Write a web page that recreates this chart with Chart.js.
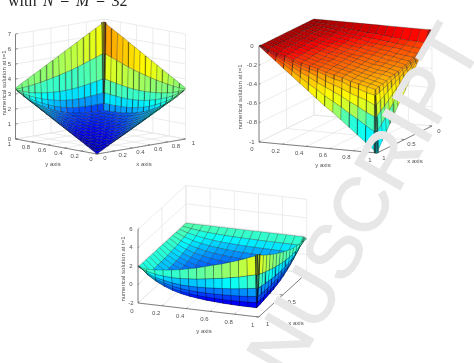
<!DOCTYPE html>
<html><head><meta charset="utf-8">
<script src="https://cdn.jsdelivr.net/npm/chart.js@4"></script>
<style>
html,body{margin:0;padding:0;background:#fff;width:474px;height:363px;overflow:hidden}
#c{position:absolute;left:0;top:0;display:block;filter:blur(0.35px)}
#t{position:absolute;left:8px;top:-8px;font:16px/18px "Liberation Serif",serif;color:#222;word-spacing:2.6px;white-space:nowrap}
</style></head><body>
<canvas id="c" width="474" height="363"></canvas>
<div id="t">with <i>N</i> = <i>M</i> = 32</div>
<script>
const meshValues=[0,.069,.139,.208,.278,.347,.417,.486,.556,.625,.694,.764,.833,.903,.972,.977,.982,.987,.993,1];

const surfaceA=[
[0,.23,.46,.69,.92,1.15,1.38,1.60,1.83,2.06,2.29,2.52,2.75,2.98,3.20,3.22,3.24,3.27,3.33,3.4],
[.23,.07,.19,.39,.59,.80,1.01,1.24,1.46,1.69,1.91,2.14,2.37,2.58,2.81,2.88,2.98,3.11,3.35,3.64],
[.46,.19,.14,.24,.39,.57,.78,.96,1.18,1.39,1.60,1.83,2.02,2.28,2.47,2.58,2.75,2.97,3.38,3.87],
[.69,.39,.24,.21,.30,.42,.58,.76,.96,1.16,1.35,1.57,1.77,1.99,2.19,2.34,2.57,2.88,3.44,4.11],
[.92,.59,.39,.30,.28,.36,.47,.62,.78,.97,1.15,1.35,1.55,1.73,1.94,2.13,2.42,2.80,3.50,4.34],
[1.15,.80,.57,.42,.36,.35,.43,.53,.66,.81,.97,1.16,1.33,1.54,1.72,1.95,2.29,2.75,3.58,4.58],
[1.38,1.01,.78,.58,.47,.43,.42,.50,.59,.71,.85,1.0,1.17,1.35,1.52,1.78,2.18,2.71,3.67,4.82],
[1.60,1.24,.96,.76,.62,.53,.50,.49,.56,.66,.76,.89,1.04,1.22,1.36,1.66,2.10,2.69,3.76,5.05],
[1.83,1.46,1.18,.96,.78,.66,.59,.56,.56,.63,.72,.83,.94,1.08,1.23,1.56,2.04,2.69,3.87,5.29],
[2.06,1.69,1.39,1.16,.97,.81,.71,.66,.63,.63,.70,.79,.89,1.0,1.13,1.48,2.01,2.71,3.98,5.52],
[2.29,1.91,1.60,1.35,1.15,.97,.85,.76,.72,.70,.69,.77,.86,.95,1.06,1.44,2.0,2.75,4.11,5.76],
[2.52,2.14,1.83,1.57,1.35,1.16,1.0,.89,.83,.79,.77,.76,.83,.92,1.01,1.41,2.01,2.81,4.25,6.0],
[2.75,2.37,2.02,1.77,1.55,1.33,1.17,1.04,.94,.89,.86,.83,.83,.90,.99,1.41,2.04,2.88,4.40,6.23],
[2.98,2.58,2.28,1.99,1.73,1.54,1.35,1.22,1.08,1.0,.95,.92,.90,.90,.97,1.41,2.07,2.95,4.54,6.47],
[3.20,2.81,2.47,2.19,1.94,1.72,1.52,1.36,1.23,1.13,1.06,1.01,.99,.97,.97,1.43,2.12,3.03,4.69,6.70],
[3.22,2.88,2.58,2.34,2.13,1.95,1.78,1.66,1.56,1.48,1.44,1.41,1.41,1.41,1.43,1.43,2.12,3.03,4.69,6.8],
[3.24,2.98,2.75,2.57,2.42,2.29,2.18,2.10,2.04,2.01,2.0,2.01,2.04,2.07,2.12,2.12,2.12,3.03,4.69,6.8],
[3.27,3.11,2.97,2.88,2.80,2.75,2.71,2.69,2.69,2.71,2.75,2.81,2.88,2.95,3.03,3.03,3.03,3.03,4.69,6.8],
[3.33,3.35,3.38,3.44,3.50,3.58,3.67,3.76,3.87,3.98,4.11,4.25,4.40,4.54,4.69,4.69,4.69,4.69,4.69,6.8],
[3.4,3.64,3.87,4.11,4.34,4.58,4.82,5.05,5.29,5.52,5.76,6.0,6.23,6.47,6.70,6.8,6.8,6.8,6.8,6.8]];

const surfaceB=[
[0,0,0,0,0,0,0,0,0,0,0,0,0,0,0,0,0,0,0,0],
[0,-.01,-.02,-.03,-.04,-.05,-.06,-.07,-.07,-.08,-.09,-.10,-.11,-.11,-.12,-.12,-.11,-.10,-.09,-.07],
[0,-.02,-.03,-.04,-.05,-.07,-.08,-.09,-.10,-.11,-.12,-.13,-.14,-.15,-.16,-.16,-.16,-.15,-.15,-.14],
[0,-.02,-.04,-.05,-.06,-.08,-.09,-.10,-.12,-.13,-.14,-.15,-.16,-.18,-.19,-.19,-.20,-.20,-.20,-.21],
[0,-.02,-.04,-.06,-.07,-.09,-.10,-.12,-.13,-.14,-.16,-.17,-.19,-.20,-.21,-.22,-.23,-.24,-.26,-.28],
[0,-.02,-.04,-.06,-.08,-.10,-.11,-.13,-.14,-.16,-.17,-.19,-.20,-.22,-.23,-.24,-.26,-.28,-.31,-.35],
[0,-.03,-.05,-.07,-.09,-.10,-.12,-.14,-.15,-.17,-.18,-.20,-.22,-.23,-.25,-.27,-.29,-.33,-.37,-.42],
[0,-.03,-.05,-.07,-.09,-.11,-.13,-.15,-.17,-.18,-.20,-.22,-.23,-.25,-.26,-.28,-.32,-.36,-.42,-.49],
[0,-.03,-.05,-.07,-.10,-.12,-.14,-.15,-.17,-.19,-.21,-.23,-.24,-.26,-.28,-.31,-.35,-.41,-.48,-.56],
[0,-.03,-.06,-.08,-.10,-.12,-.14,-.16,-.18,-.20,-.22,-.24,-.26,-.27,-.29,-.32,-.37,-.44,-.52,-.62],
[0,-.03,-.06,-.08,-.10,-.13,-.15,-.17,-.19,-.21,-.23,-.25,-.27,-.28,-.30,-.34,-.40,-.48,-.57,-.69],
[0,-.03,-.06,-.08,-.11,-.13,-.16,-.17,-.20,-.22,-.24,-.26,-.28,-.30,-.32,-.36,-.43,-.52,-.63,-.76],
[0,-.03,-.06,-.09,-.11,-.14,-.16,-.18,-.20,-.22,-.24,-.27,-.29,-.31,-.33,-.38,-.46,-.56,-.68,-.83],
[0,-.03,-.07,-.09,-.12,-.14,-.17,-.19,-.21,-.23,-.25,-.28,-.30,-.32,-.34,-.40,-.48,-.59,-.73,-.90],
[0,-.04,-.07,-.09,-.12,-.15,-.17,-.19,-.22,-.24,-.26,-.29,-.31,-.33,-.35,-.41,-.51,-.63,-.78,-.97],
[0,-.04,-.08,-.10,-.14,-.17,-.20,-.22,-.25,-.28,-.30,-.34,-.36,-.39,-.41,-.41,-.51,-.63,-.78,-1],
[0,-.05,-.09,-.12,-.16,-.20,-.23,-.27,-.31,-.34,-.37,-.41,-.44,-.47,-.51,-.51,-.51,-.63,-.78,-1],
[0,-.05,-.10,-.14,-.19,-.24,-.28,-.33,-.37,-.41,-.45,-.50,-.54,-.59,-.63,-.63,-.63,-.63,-.78,-1],
[0,-.06,-.12,-.17,-.23,-.29,-.35,-.40,-.46,-.51,-.56,-.62,-.67,-.73,-.78,-.78,-.78,-.78,-.78,-1],
[0,-.07,-.14,-.21,-.28,-.35,-.42,-.49,-.56,-.62,-.69,-.76,-.83,-.90,-.97,-1,-1,-1,-1,-1]];

const surfaceC=[
[1.9,1.9,1.9,1.9,1.9,1.9,1.9,1.9,1.9,1.9,1.9,1.9,1.9,1.9,1.9,1.88,1.86,1.82,1.77,1.7],
[1.9,1.73,1.62,1.53,1.47,1.42,1.39,1.36,1.35,1.33,1.32,1.32,1.31,1.31,1.31,1.35,1.41,1.48,1.59,1.75],
[1.9,1.60,1.39,1.24,1.13,1.04,.98,.94,.90,.88,.86,.85,.84,.84,.84,.94,1.06,1.22,1.49,1.85],
[1.9,1.49,1.20,1.00,.84,.73,.64,.58,.54,.51,.48,.46,.45,.45,.45,.60,.78,1.02,1.41,1.95],
[1.9,1.40,1.05,.80,.60,.46,.35,.28,.23,.19,.16,.14,.12,.12,.12,.31,.54,.85,1.36,2.05],
[1.9,1.33,.92,.63,.40,.24,.12,.03,-.03,-.07,-.11,-.13,-.15,-.15,-.15,.09,.37,.74,1.35,2.2],
[1.9,1.26,.81,.49,.24,.05,-.08,-.17,-.24,-.29,-.33,-.36,-.38,-.38,-.38,-.10,.23,.68,1.40,2.4],
[1.9,1.21,.71,.36,.09,-.11,-.26,-.36,-.43,-.48,-.53,-.56,-.58,-.58,-.58,-.26,.12,.63,1.46,2.6],
[1.9,1.17,.65,.28,-.01,-.21,-.37,-.48,-.55,-.61,-.66,-.68,-.71,-.71,-.71,-.35,.07,.64,1.57,2.85],
[1.9,1.13,.58,.20,-.10,-.32,-.48,-.59,-.68,-.73,-.79,-.81,-.84,-.84,-.84,-.45,.03,.66,1.68,3.1],
[1.9,1.11,.55,.15,-.16,-.38,-.55,-.67,-.75,-.81,-.86,-.89,-.92,-.92,-.92,-.49,.02,.70,1.81,3.35],
[1.9,1.09,.51,.10,-.22,-.45,-.62,-.74,-.83,-.88,-.94,-.97,-1.0,-1.0,-1.0,-.54,.02,.77,1.98,3.65],
[1.9,1.07,.47,.06,-.27,-.51,-.68,-.80,-.89,-.95,-1.01,-1.04,-1.07,-1.07,-1.07,-.57,.03,.84,2.14,3.95],
[1.9,1.05,.44,.02,-.32,-.56,-.74,-.87,-.96,-1.02,-1.08,-1.11,-1.14,-1.14,-1.14,-.60,.05,.91,2.31,4.25],
[1.9,1.04,.43,0,-.34,-.59,-.77,-.89,-.99,-1.05,-1.11,-1.14,-1.17,-1.17,-1.17,-.59,.10,1.02,2.52,4.6],
[1.9,1.12,.57,.19,-.11,-.32,-.46,-.55,-.61,-.64,-.67,-.67,-.66,-.63,-.59,-.59,.10,1.02,2.52,4.74],
[1.9,1.21,.73,.42,.17,.01,-.08,-.13,-.16,-.15,-.14,-.10,-.05,.02,.10,.10,.10,1.02,2.52,4.74],
[1.9,1.33,.95,.72,.55,.45,.42,.42,.45,.51,.57,.66,.76,.89,1.02,1.02,1.02,1.02,2.52,4.74],
[1.9,1.53,1.31,1.22,1.16,1.16,1.23,1.31,1.44,1.57,1.71,1.89,2.07,2.30,2.52,2.52,2.52,2.52,2.52,4.74],
[1.9,1.8,1.8,1.9,2.0,2.15,2.35,2.55,2.8,3.05,3.3,3.6,3.9,4.25,4.6,4.74,4.74,4.74,4.74,4.74]];

const unitTicks=[0,.2,.4,.6,.8,1];
const coarseTicks=[0,.5,1];
const zTicksA=[0,1,2,3,4,5,6,7];
const zTicksB=[-1,-.8,-.6,-.4,-.2,0];
const zTicksC=[-2,0,2,4,6];
const zLabel="numerical solution at t=1";

const colorZA=[0,1,1.43,2.12,3.03,4.69,6.7];
const colorTA=[.05,.2,.28,.36,.47,.61,.73];
const colorZB=[-1,-.8,-.63,-.33,-.15,-.07,0];
const colorTB=[.36,.42,.58,.7,.82,.92,.98];
const colorZC=[-1.2,-.25,.56,1.8,3.6];
const colorTC=[.08,.2,.28,.45,.6];

const views=[
{z:surfaceA,o:[97,154],ex:[88.5,-15],ey:[-81.5,-15],ez:15,zMin:0,zMax:7,xTicks:unitTicks,yTicks:unitTicks,zTicks:zTicksA,
 far:[1,1],near:[0,0],desc:true,colorZ:colorZA,colorT:colorTA,pick:(a,b,c,d)=>b,
 xOff:[8,4.5],yOff:[-6,5],zOff:-6,xl:[144,164],yl:[53,164],zl:[4,83]},
{z:surfaceB,o:[314,115],ex:[-55,27],ey:[118,11],ez:96,zMin:-1,zMax:0,xTicks:coarseTicks,yTicks:unitTicks,zTicks:zTicksB,
 far:[0,0],near:[1,1],desc:false,colorZ:colorZB,colorT:colorTB,pick:(a,b,c,d)=>Math.min(a,b,c,d),
 xOff:[7,5],yOff:[-7,7],zOff:-7,xl:[415,161],yl:[323,165],zl:[240,97]},
{z:surfaceC,o:[186,259],ex:[-48,44],ey:[120.7,14],ez:9.2,zMin:-2,zMax:6,xTicks:coarseTicks,yTicks:unitTicks,zTicks:zTicksC,
 far:[0,0],near:[1,1],desc:false,colorZ:colorZC,colorT:colorTC,pick:(a,b,c,d)=>(a+b+c+d)/4,
 xOff:[9,7.5],yOff:[-6,8],zOff:-7,xl:[296,323],yl:[204,331],zl:[123,269]}
];

function project(v,x,y,z){
  return {x:v.o[0]+x*v.ex[0]+y*v.ey[0],
          y:v.o[1]+x*v.ex[1]+y*v.ey[1]-(z-v.zMin)*v.ez};
}
function jet(t){
  const c=q=>Math.round(255*Math.max(0,Math.min(1,1.5-Math.abs(4*t-q))));
  return `rgb(${c(3)},${c(2)},${c(1)})`;
}
function colorOf(v,z){
  const Z=v.colorZ,T=v.colorT;
  if(z<=Z[0])return jet(T[0]);
  for(let k=1;k<Z.length;k++){
    if(z<=Z[k])return jet(T[k-1]+(T[k]-T[k-1])*(z-Z[k-1])/(Z[k]-Z[k-1]));
  }
  return jet(T[T.length-1]);
}
const datasets=[];
function line(pts,color,w){
  datasets.push({data:pts,showLine:true,fill:false,borderColor:color,borderWidth:w,pointRadius:0,tension:0,clip:false});
}
const GRID='#e4e4e4',AXIS='#666';
views.forEach(v=>{
  const [fx,fy]=v.far,[nx,ny]=v.near;
  v.xTicks.forEach(t=>{
    line([project(v,t,0,v.zMin),project(v,t,1,v.zMin)],GRID,.7);
    line([project(v,t,fy,v.zMin),project(v,t,fy,v.zMax)],GRID,.7);
  });
  v.yTicks.forEach(t=>{
    line([project(v,0,t,v.zMin),project(v,1,t,v.zMin)],GRID,.7);
    line([project(v,fx,t,v.zMin),project(v,fx,t,v.zMax)],GRID,.7);
  });
  v.zTicks.forEach(t=>{
    line([project(v,fx,0,t),project(v,fx,1,t)],GRID,.7);
    line([project(v,0,fy,t),project(v,1,fy,t)],GRID,.7);
  });
  line([project(v,0,ny,v.zMin),project(v,1,ny,v.zMin)],AXIS,.8);
  line([project(v,nx,0,v.zMin),project(v,nx,1,v.zMin)],AXIS,.8);
  line([project(v,nx,fy,v.zMin),project(v,nx,fy,v.zMax)],AXIS,.8);
  const sx=nx?-1:1,sy=ny?-1:1;
  v.xTicks.forEach(t=>line([project(v,t,ny,v.zMin),project(v,t,ny+sy*.025,v.zMin)],AXIS,.7));
  v.yTicks.forEach(t=>line([project(v,nx,t,v.zMin),project(v,nx+sx*.025,t,v.zMin)],AXIS,.7));
  v.zTicks.forEach(t=>line([project(v,nx,fy,t),project(v,nx+sx*.025,fy,t)],AXIS,.7));

  const n=meshValues.length-1;
  for(let a=0;a<n;a++){
    const i=v.desc?n-1-a:a;
    for(let b=0;b<n;b++){
      const j=v.desc?n-1-b:b;
      const X0=meshValues[i],X1=meshValues[i+1],Y0=meshValues[j],Y1=meshValues[j+1];
      const z00=v.z[i][j],z10=v.z[i+1][j],z11=v.z[i+1][j+1],z01=v.z[i][j+1];
      const P=[project(v,X0,Y0,z00),project(v,X1,Y0,z10),project(v,X1,Y1,z11),project(v,X0,Y1,z01)];
      P.push(P[0]);
      datasets.push({data:P,showLine:true,fill:'shape',backgroundColor:colorOf(v,v.pick(z00,z10,z11,z01)),
        borderColor:'rgba(0,0,0,.46)',borderWidth:.5,pointRadius:0,tension:0,clip:false});
    }
  }
});
datasets.forEach((d,k)=>{d.order=-k;});

const textPlugin={id:'txt',afterDatasetsDraw(ch){
  const g=ch.ctx,sx=ch.scales.x,sy=ch.scales.y;
  const px=(x,y)=>[sx.getPixelForValue(x),sy.getPixelForValue(y)];
  g.save();
  g.fillStyle='#505050';g.font='6px "Liberation Sans",Arial,sans-serif';
  g.textAlign='center';g.textBaseline='middle';
  views.forEach(v=>{
    const [fx,fy]=v.far,[nx,ny]=v.near;
    v.xTicks.forEach(t=>{const p=project(v,t,ny,v.zMin),q=px(p.x+v.xOff[0],p.y+v.xOff[1]);g.fillText(String(t),q[0],q[1]);});
    v.yTicks.forEach(t=>{const p=project(v,nx,t,v.zMin),q=px(p.x+v.yOff[0],p.y+v.yOff[1]);g.fillText(String(t),q[0],q[1]);});
    v.zTicks.forEach(t=>{const p=project(v,nx,fy,t),q=px(p.x+v.zOff,p.y);g.fillText(String(t),q[0],q[1]);});
    let q=px(v.xl[0],v.xl[1]);g.fillText('x axis',q[0],q[1]);
    q=px(v.yl[0],v.yl[1]);g.fillText('y axis',q[0],q[1]);
    q=px(v.zl[0],v.zl[1]);g.save();g.translate(q[0],q[1]);g.rotate(-Math.PI/2);g.fillText(zLabel,0,0);g.restore();
  });
  // watermark
  g.translate(483.6,45);g.rotate(-60*Math.PI/180);
  g.textAlign='right';g.textBaseline='alphabetic';
  g.font='76px "Liberation Sans",Arial,sans-serif';
  g.fillStyle='#e7e7e7';g.strokeStyle='#e7e7e7';g.lineWidth=1.2;
  g.fillText('MANUSCRIPT',0,0);g.strokeText('MANUSCRIPT',0,0);
  g.restore();
}};

new Chart(document.getElementById('c'),{
  type:'scatter',
  data:{datasets},
  plugins:[textPlugin],
  options:{responsive:false,animation:false,devicePixelRatio:1,parsing:false,normalized:true,
    layout:{padding:0},events:[],
    plugins:{legend:{display:false},tooltip:{enabled:false},title:{display:false},filler:{propagate:false}},
    scales:{x:{type:'linear',min:0,max:474,display:false},y:{type:'linear',min:0,max:363,reverse:true,display:false}}
  }
});
</script>
</body></html>
